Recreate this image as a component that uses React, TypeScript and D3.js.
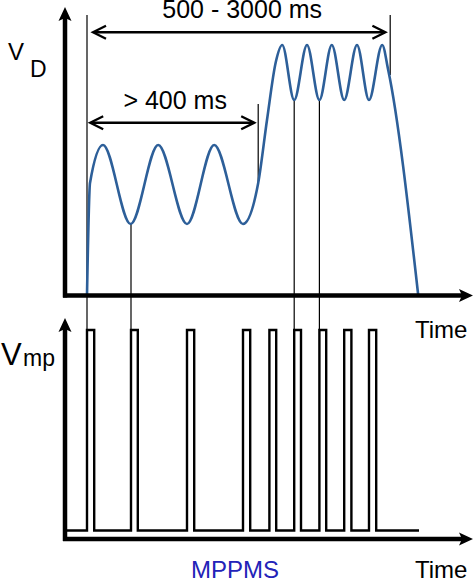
import React from 'react';
import * as d3 from 'd3';

const W = 474;
const H = 579;

// V_D waveform: time (ms) and amplitude (% of max)
const waveTime = [0, 7.5, 40, 109, 178, 250, 318, 390, 428, 450, 472, 488, 518, 550, 581, 612, 643, 675, 705, 738, 753, 828];
const waveValue = [0, 44.8, 60, 28.4, 60, 28.4, 60, 28.4, 44.8, 70, 93.2, 100, 78, 100, 78, 100, 78, 100, 78, 100, 90, 0];

// V_mp pulse train (ms)
const pulseStart = [0, 110, 250, 390, 456, 518, 581, 643, 705];
const pulseEnd = [18, 127, 268, 408, 473, 535, 598, 661, 723];
const trainStart = -50;
const trainEnd = 830;

// thin lines dropping from the waveform down to the pulses
const dropTime = [0, 110, 518, 581];
const dropFrom = [112, 28.4, 78, 78];

// thin marker lines in the upper panel only
const markTime = [428, 758];
const markTop = [76.4, 112];
const markBottom = [44.8, 88];

// duration arrows
const spanLabel = ['500 - 3000 ms', '> 400 ms'];
const spanStart = [15, 8];
const spanEnd = [746, 418];
const spanLevel = [105.1, 68.9];

const FONT = "'Liberation Sans', Arial, Helvetica, sans-serif";

const x = d3.scaleLinear().domain([0, 1000]).range([87, 487]);
const yTop = d3.scaleLinear().domain([0, 100]).range([295, 45]);
const yPulse = d3.scaleLinear().domain([0, 1]).range([530.5, 330]);

// axes layout
const axisX = 65;
const topAxisY = 295.5;
const botAxisY = 539;
const axisRight = 473;

function AxisArrows({ baseY, tipY }: { baseY: number; tipY: number }) {
  return (
    <g>
      <line x1={axisX} x2={axisX} y1={baseY + 2} y2={tipY + 10} stroke="#000" strokeWidth={4.5} />
      <polygon
        points={`${axisX},${tipY} ${axisX + 6.5},${tipY + 14} ${axisX},${tipY + 11} ${axisX - 6.5},${tipY + 14}`}
        fill="#000"
      />
      <line x1={axisX - 2} x2={axisRight - 10} y1={baseY} y2={baseY} stroke="#000" strokeWidth={4.5} />
      <polygon
        points={`${axisRight},${baseY} ${axisRight - 14},${baseY - 6.5} ${axisRight - 11},${baseY} ${axisRight - 14},${baseY + 6.5}`}
        fill="#000"
      />
    </g>
  );
}

export default function App() {
  const wave = d3
    .line<number>()
    .x((_, i) => x(waveTime[i]))
    .y((_, i) => yTop(waveValue[i]))
    .curve(d3.curveMonotoneX)(waveTime) as string;

  const trainPts: [number, number][] = [[trainStart, 0]];
  pulseStart.forEach((s, i) => {
    trainPts.push([s, 0], [s, 1], [pulseEnd[i], 1], [pulseEnd[i], 0]);
  });
  trainPts.push([trainEnd, 0]);
  const train = d3
    .line<[number, number]>()
    .x((d) => x(d[0]))
    .y((d) => yPulse(d[1]))(trainPts) as string;

  return (
    <svg
      width={W}
      height={H}
      style={{ position: 'absolute', left: 0, top: 0, background: '#fff' }}
      fontFamily={FONT}
    >
      <rect width={W} height={H} fill="#fff" />

      {/* thin guide lines */}
      {dropTime.map((t, i) => (
        <line key={'d' + i} x1={x(t)} x2={x(t)} y1={yTop(dropFrom[i])} y2={yPulse(1)} stroke="#000" strokeWidth={1.2} />
      ))}
      {markTime.map((t, i) => (
        <line key={'m' + i} x1={x(t)} x2={x(t)} y1={yTop(markTop[i])} y2={yTop(markBottom[i])} stroke="#000" strokeWidth={1.2} />
      ))}

      {/* duration arrows */}
      {spanLabel.map((lab, i) => {
        const x0 = x(spanStart[i]);
        const x1 = x(spanEnd[i]);
        const yy = yTop(spanLevel[i]);
        return (
          <g key={'s' + i}>
            <line x1={x0 + 1} x2={x1 - 1} y1={yy} y2={yy} stroke="#000" strokeWidth={2.3} />
            <polyline points={`${x0 + 13},${yy - 6.5} ${x0},${yy} ${x0 + 13},${yy + 6.5}`} fill="none" stroke="#000" strokeWidth={2.3} />
            <polyline points={`${x1 - 13},${yy - 6.5} ${x1},${yy} ${x1 - 13},${yy + 6.5}`} fill="none" stroke="#000" strokeWidth={2.3} />
            <text x={(x0 + x1) / 2 + 3} y={yy - 14} textAnchor="middle" fontSize={25} fill="#000">
              {lab}
            </text>
          </g>
        );
      })}

      {/* waveform */}
      <path d={wave} fill="none" stroke="#2d5f99" strokeWidth={2.6} strokeLinejoin="round" />

      {/* pulse train */}
      <path d={train} fill="none" stroke="#000" strokeWidth={2.4} strokeLinejoin="miter" />

      <AxisArrows baseY={topAxisY} tipY={7} />
      <AxisArrows baseY={botAxisY} tipY={318} />

      {/* labels */}
      <text x={8} y={60} fontSize={24}>V</text>
      <text x={30} y={77} fontSize={23}>D</text>
      <text x={1} y={365} fontSize={31}>V</text>
      <text x={23} y={366} fontSize={23}>mp</text>
      <text x={415} y={338} fontSize={24}>Time</text>
      <text x={415} y={578} fontSize={24}>Time</text>
      <text x={235} y={578} fontSize={24} textAnchor="middle" fill="#2323b8">MPPMS</text>
    </svg>
  );
}
